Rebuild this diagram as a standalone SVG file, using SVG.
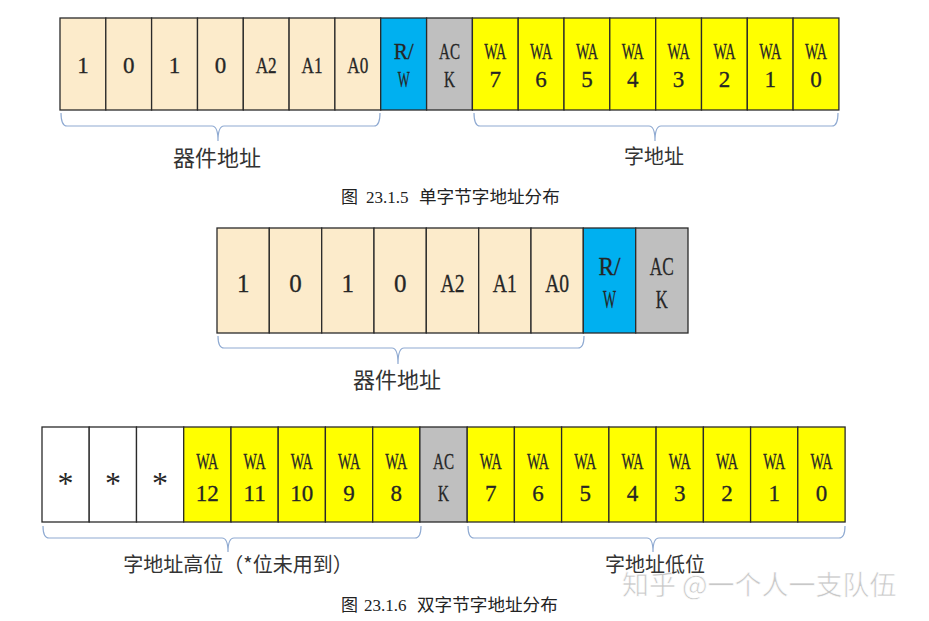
<svg xmlns="http://www.w3.org/2000/svg" width="929" height="621" viewBox="0 0 929 621">
<style>
.c rect{stroke:#2a2a2a;stroke-width:1.3}
.tan{fill:#FCEBCB}.blue{fill:#00B0F0}.gray{fill:#BFBFBF}.yel{fill:#FFFF00}.wht{fill:#FFFFFF}
.t{font-family:"Liberation Serif","DejaVu Serif",serif;font-size:23px;fill:#262626;stroke:#262626;stroke-width:0.3;text-anchor:middle}
.m{font-size:25px}
.ast{font-size:32px;stroke-width:0}
.lbl{font-family:"Noto Sans CJK SC","Noto Sans",sans-serif;font-size:21px;fill:#333;text-anchor:middle}
.cap{font-family:"Liberation Serif","Noto Sans CJK SC",serif;font-size:17px;fill:#222}
.br{fill:none;stroke:#8FAAD2;stroke-width:1.2}
.wm{font-family:"Noto Sans CJK SC",sans-serif;font-size:27px;fill:#c8c8c8;stroke:#fff;stroke-width:0.6}
</style>
<rect width="929" height="621" fill="#fff"/>

<!-- Top row: single-byte -->
<g id="row1" class="c">
<g id="r1c1"><rect class="tan" x="60" y="18" width="45.8" height="92"/><text class="t" x="82.9" y="73">1</text></g>
<g id="r1c2"><rect class="tan" x="105.8" y="18" width="45.8" height="92"/><text class="t" x="128.7" y="73">0</text></g>
<g id="r1c3"><rect class="tan" x="151.6" y="18" width="45.9" height="92"/><text class="t" x="174.6" y="73">1</text></g>
<g id="r1c4"><rect class="tan" x="197.5" y="18" width="45.8" height="92"/><text class="t" x="220.4" y="73">0</text></g>
<g id="r1c5"><rect class="tan" x="243.3" y="18" width="45.8" height="92"/><text class="t" x="266.2" y="73" textLength="21" lengthAdjust="spacingAndGlyphs">A2</text></g>
<g id="r1c6"><rect class="tan" x="289.1" y="18" width="45.8" height="92"/><text class="t" x="312" y="73" textLength="21" lengthAdjust="spacingAndGlyphs">A1</text></g>
<g id="r1c7"><rect class="tan" x="334.9" y="18" width="45.8" height="92"/><text class="t" x="357.8" y="73" textLength="21" lengthAdjust="spacingAndGlyphs">A0</text></g>
<g id="r1c8"><rect class="blue" x="380.7" y="18" width="45.9" height="92"/><text class="t" x="403.7" y="59" textLength="20" lengthAdjust="spacingAndGlyphs">R/</text><text class="t" x="403.7" y="87" textLength="12" lengthAdjust="spacingAndGlyphs">W</text></g>
<g id="r1c9"><rect class="gray" x="426.6" y="18" width="45.8" height="92"/><text class="t" x="449.5" y="59" textLength="21" lengthAdjust="spacingAndGlyphs">AC</text><text class="t" x="449.5" y="87" textLength="11" lengthAdjust="spacingAndGlyphs">K</text></g>
<g id="r1c10"><rect class="yel" x="472.4" y="18" width="45.8" height="92"/><text class="t" x="495.3" y="59" textLength="22" lengthAdjust="spacingAndGlyphs">WA</text><text class="t" x="495.3" y="87">7</text></g>
<g id="r1c11"><rect class="yel" x="518.2" y="18" width="45.8" height="92"/><text class="t" x="541.1" y="59" textLength="22" lengthAdjust="spacingAndGlyphs">WA</text><text class="t" x="541.1" y="87">6</text></g>
<g id="r1c12"><rect class="yel" x="564" y="18" width="45.8" height="92"/><text class="t" x="586.9" y="59" textLength="22" lengthAdjust="spacingAndGlyphs">WA</text><text class="t" x="586.9" y="87">5</text></g>
<g id="r1c13"><rect class="yel" x="609.8" y="18" width="45.9" height="92"/><text class="t" x="632.8" y="59" textLength="22" lengthAdjust="spacingAndGlyphs">WA</text><text class="t" x="632.8" y="87">4</text></g>
<g id="r1c14"><rect class="yel" x="655.7" y="18" width="45.8" height="92"/><text class="t" x="678.6" y="59" textLength="22" lengthAdjust="spacingAndGlyphs">WA</text><text class="t" x="678.6" y="87">3</text></g>
<g id="r1c15"><rect class="yel" x="701.5" y="18" width="45.8" height="92"/><text class="t" x="724.4" y="59" textLength="22" lengthAdjust="spacingAndGlyphs">WA</text><text class="t" x="724.4" y="87">2</text></g>
<g id="r1c16"><rect class="yel" x="747.3" y="18" width="45.8" height="92"/><text class="t" x="770.2" y="59" textLength="22" lengthAdjust="spacingAndGlyphs">WA</text><text class="t" x="770.2" y="87">1</text></g>
<g id="r1c17"><rect class="yel" x="793.1" y="18" width="45.8" height="92"/><text class="t" x="816" y="59" textLength="22" lengthAdjust="spacingAndGlyphs">WA</text><text class="t" x="816" y="87">0</text></g>
</g>

<!-- Middle row: device address -->
<g id="row2" class="c">
<g id="r2c1"><rect class="tan" x="217" y="228" width="52.3" height="105"/><text class="t m" x="243.2" y="292">1</text></g>
<g id="r2c2"><rect class="tan" x="269.3" y="228" width="52.4" height="105"/><text class="t m" x="295.5" y="292">0</text></g>
<g id="r2c3"><rect class="tan" x="321.7" y="228" width="52.3" height="105"/><text class="t m" x="347.8" y="292">1</text></g>
<g id="r2c4"><rect class="tan" x="374" y="228" width="52.3" height="105"/><text class="t m" x="400.2" y="292">0</text></g>
<g id="r2c5"><rect class="tan" x="426.3" y="228" width="52.4" height="105"/><text class="t m" x="452.5" y="292" textLength="24" lengthAdjust="spacingAndGlyphs">A2</text></g>
<g id="r2c6"><rect class="tan" x="478.7" y="228" width="52.3" height="105"/><text class="t m" x="504.8" y="292" textLength="24" lengthAdjust="spacingAndGlyphs">A1</text></g>
<g id="r2c7"><rect class="tan" x="531" y="228" width="52.3" height="105"/><text class="t m" x="557.2" y="292" textLength="24" lengthAdjust="spacingAndGlyphs">A0</text></g>
<g id="r2c8"><rect class="blue" x="583.3" y="228" width="52.4" height="105"/><text class="t m" x="609.5" y="275" textLength="22" lengthAdjust="spacingAndGlyphs">R/</text><text class="t m" x="609.5" y="308" textLength="13" lengthAdjust="spacingAndGlyphs">W</text></g>
<g id="r2c9"><rect class="gray" x="635.7" y="228" width="52.3" height="105"/><text class="t m" x="661.8" y="275" textLength="24" lengthAdjust="spacingAndGlyphs">AC</text><text class="t m" x="661.8" y="308" textLength="12" lengthAdjust="spacingAndGlyphs">K</text></g>
</g>

<!-- Bottom row: double-byte -->
<g id="row3" class="c">
<g id="r3c1"><rect class="wht" x="42" y="427" width="47.2" height="95"/><text class="t ast" x="65.6" y="494">*</text></g>
<g id="r3c2"><rect class="wht" x="89.2" y="427" width="47.3" height="95"/><text class="t ast" x="112.9" y="494">*</text></g>
<g id="r3c3"><rect class="wht" x="136.5" y="427" width="47.2" height="95"/><text class="t ast" x="160.1" y="494">*</text></g>
<g id="r3c4"><rect class="yel" x="183.7" y="427" width="47.3" height="95"/><text class="t" x="207.3" y="469" textLength="22" lengthAdjust="spacingAndGlyphs">WA</text><text class="t" x="207.3" y="501">12</text></g>
<g id="r3c5"><rect class="yel" x="231" y="427" width="47.2" height="95"/><text class="t" x="254.6" y="469" textLength="22" lengthAdjust="spacingAndGlyphs">WA</text><text class="t" x="254.6" y="501">11</text></g>
<g id="r3c6"><rect class="yel" x="278.2" y="427" width="47.2" height="95"/><text class="t" x="301.8" y="469" textLength="22" lengthAdjust="spacingAndGlyphs">WA</text><text class="t" x="301.8" y="501">10</text></g>
<g id="r3c7"><rect class="yel" x="325.4" y="427" width="47.3" height="95"/><text class="t" x="349.1" y="469" textLength="22" lengthAdjust="spacingAndGlyphs">WA</text><text class="t" x="349.1" y="501">9</text></g>
<g id="r3c8"><rect class="yel" x="372.7" y="427" width="47.2" height="95"/><text class="t" x="396.3" y="469" textLength="22" lengthAdjust="spacingAndGlyphs">WA</text><text class="t" x="396.3" y="501">8</text></g>
<g id="r3c9"><rect class="gray" x="419.9" y="427" width="47.3" height="95"/><text class="t" x="443.5" y="469" textLength="21" lengthAdjust="spacingAndGlyphs">AC</text><text class="t" x="443.5" y="501" textLength="11" lengthAdjust="spacingAndGlyphs">K</text></g>
<g id="r3c10"><rect class="yel" x="467.2" y="427" width="47.2" height="95"/><text class="t" x="490.8" y="469" textLength="22" lengthAdjust="spacingAndGlyphs">WA</text><text class="t" x="490.8" y="501">7</text></g>
<g id="r3c11"><rect class="yel" x="514.4" y="427" width="47.2" height="95"/><text class="t" x="538" y="469" textLength="22" lengthAdjust="spacingAndGlyphs">WA</text><text class="t" x="538" y="501">6</text></g>
<g id="r3c12"><rect class="yel" x="561.6" y="427" width="47.3" height="95"/><text class="t" x="585.3" y="469" textLength="22" lengthAdjust="spacingAndGlyphs">WA</text><text class="t" x="585.3" y="501">5</text></g>
<g id="r3c13"><rect class="yel" x="608.9" y="427" width="47.2" height="95"/><text class="t" x="632.5" y="469" textLength="22" lengthAdjust="spacingAndGlyphs">WA</text><text class="t" x="632.5" y="501">4</text></g>
<g id="r3c14"><rect class="yel" x="656.1" y="427" width="47.3" height="95"/><text class="t" x="679.7" y="469" textLength="22" lengthAdjust="spacingAndGlyphs">WA</text><text class="t" x="679.7" y="501">3</text></g>
<g id="r3c15"><rect class="yel" x="703.4" y="427" width="47.2" height="95"/><text class="t" x="727" y="469" textLength="22" lengthAdjust="spacingAndGlyphs">WA</text><text class="t" x="727" y="501">2</text></g>
<g id="r3c16"><rect class="yel" x="750.6" y="427" width="47.2" height="95"/><text class="t" x="774.2" y="469" textLength="22" lengthAdjust="spacingAndGlyphs">WA</text><text class="t" x="774.2" y="501">1</text></g>
<g id="r3c17"><rect class="yel" x="797.8" y="427" width="47.3" height="95"/><text class="t" x="821.5" y="469" textLength="22" lengthAdjust="spacingAndGlyphs">WA</text><text class="t" x="821.5" y="501">0</text></g>
</g>

<!-- Braces -->
<g id="braces">
<path class="br" d="M61,113 Q61,126 67,126 H212 Q218,126 218,141 Q218,126 224,126 H374 Q380,126 380,113"/>
<path class="br" d="M474,113 Q474,126 480,126 H649 Q655,126 655,141 Q655,126 661,126 H832 Q838,126 838,113"/>
<path class="br" d="M218,336 Q218,348 224,348 H392 Q398,348 398,364 Q398,348 404,348 H578 Q584,348 584,336"/>
<path class="br" d="M43,526 Q43,538 49,538 H222 Q228,538 228,552 Q228,538 234,538 H415 Q421,538 421,526"/>
<path class="br" d="M468,526 Q468,538 474,538 H647 Q653,538 653,552 Q653,538 659,538 H839 Q845,538 845,526"/>
</g>

<!-- Labels -->
<g id="labels">
<text class="lbl" x="217" y="166" style="font-size:22px">器件地址</text>
<text class="lbl" x="654" y="164" style="font-size:20px">字地址</text>
<text class="lbl" x="397" y="388" style="font-size:22px">器件地址</text>
<text class="lbl" x="238" y="572" style="font-size:20px">字地址高位（*位未用到）</text>
<text class="lbl" x="655" y="572" style="font-size:20px">字地址低位</text>
<text class="cap" y="203"><tspan x="341">图</tspan><tspan x="366">23.1.5</tspan><tspan x="419" style="font-size:17.6px">单字节字地址分布</tspan></text>
<text class="cap" y="611"><tspan x="341">图</tspan><tspan x="364">23.1.6</tspan><tspan x="417" style="font-size:17.6px">双字节字地址分布</tspan></text>
<text class="wm" x="622" y="595">知乎 @一个人一支队伍</text>
</g>
</svg>
